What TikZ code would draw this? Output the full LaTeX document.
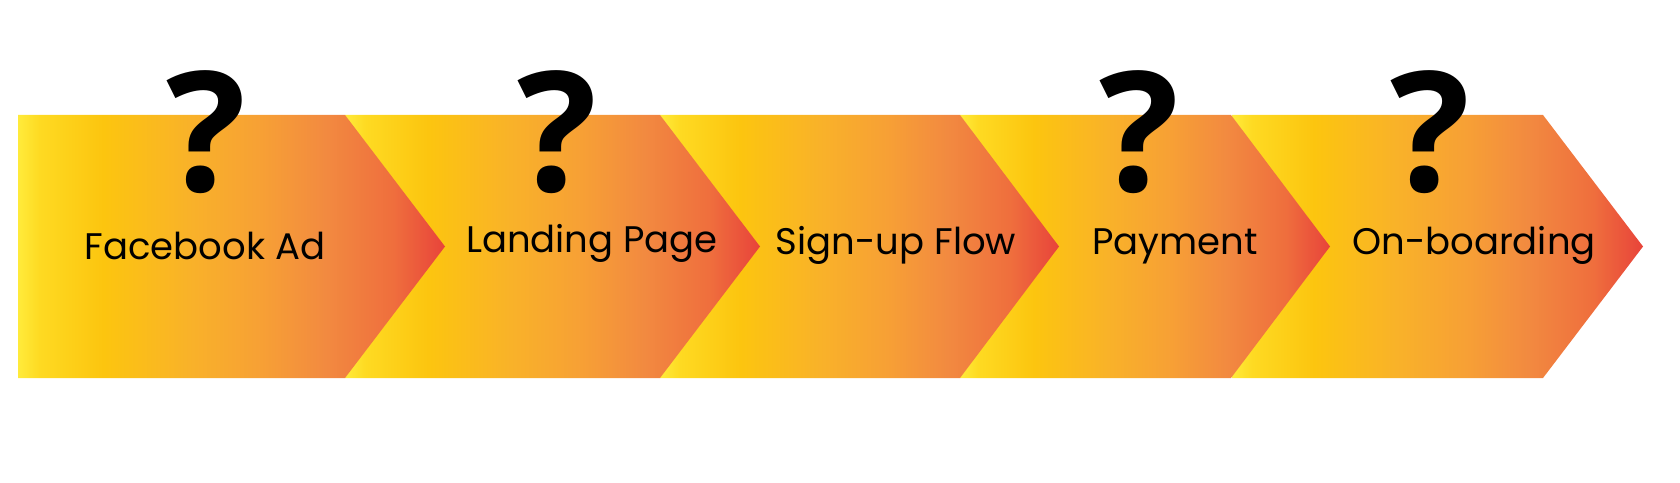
\documentclass[tikz,border=0pt]{standalone}
\usepackage{fontspec}
\setmainfont{Poppins}
\newfontfamily\qfont{Open Sans}
\definecolor{cA}{HTML}{FFEB3B}
\definecolor{cB}{HTML}{FEDA22}
\definecolor{cC}{HTML}{FCC50F}
\definecolor{cD}{HTML}{F9B229}
\definecolor{cE}{HTML}{F7A035}
\definecolor{cF}{HTML}{F28A40}
\definecolor{cG}{HTML}{EF6E3D}
\definecolor{cH}{HTML}{E8433A}
\pgfdeclarehorizontalshading{chevshade}{100bp}{color(0bp)=(cA); color(25bp)=(cA); color(27.5bp)=(cB); color(35bp)=(cC); color(45bp)=(cD); color(53.5bp)=(cE); color(61bp)=(cF); color(69bp)=(cG); color(75bp)=(cH); color(100bp)=(cH)}
\tikzset{
  chev/.style={shading=chevshade, draw=none},
  lbl/.style={anchor=base, font=\fontsize{37}{40}\selectfont, text=black, inner sep=0pt},
  qm/.style={anchor=base, font=\qfont\bfseries\fontsize{167}{170}\selectfont, text=black, inner sep=0pt}
}
\begin{document}
\begin{tikzpicture}[x=1pt,y=1pt]
\useasboundingbox (0,0) rectangle (1680,482);
% chevrons, back to front
\shade[chev] (1232,367) -- (1543,367) -- (1643,235.5) -- (1543,104) -- (1232,104) -- cycle;
\shade[chev] (960,367) -- (1231,367) -- (1330,235.5) -- (1231,104) -- (960,104) -- cycle;
\shade[chev] (660,367) -- (960,367) -- (1059,235.5) -- (960,104) -- (660,104) -- cycle;
\shade[chev] (345,367) -- (660,367) -- (760,235.5) -- (660,104) -- (345,104) -- cycle;
\shade[chev] (18,367) -- (345,367) -- (445,235.5) -- (345,104) -- (18,104) -- cycle;
% labels
\node[lbl] (l1) at (205,222) {Facebook Ad};
\node[lbl] (l2) at (592,229) {Landing Page};
\node[lbl] (l3) at (896,227) {Sign-up Flow};
\node[lbl] (l4) at (1175,227) {Payment};
\node[lbl] (l5) at (1474,227) {On-boarding};
% question marks
\node[qm] (q1) at (206,290) {?};
\node[qm] (q2) at (557,290) {?};
\node[qm] (q4) at (1139,290) {?};
\node[qm] (q5) at (1430,290) {?};
\end{tikzpicture}
\end{document}
